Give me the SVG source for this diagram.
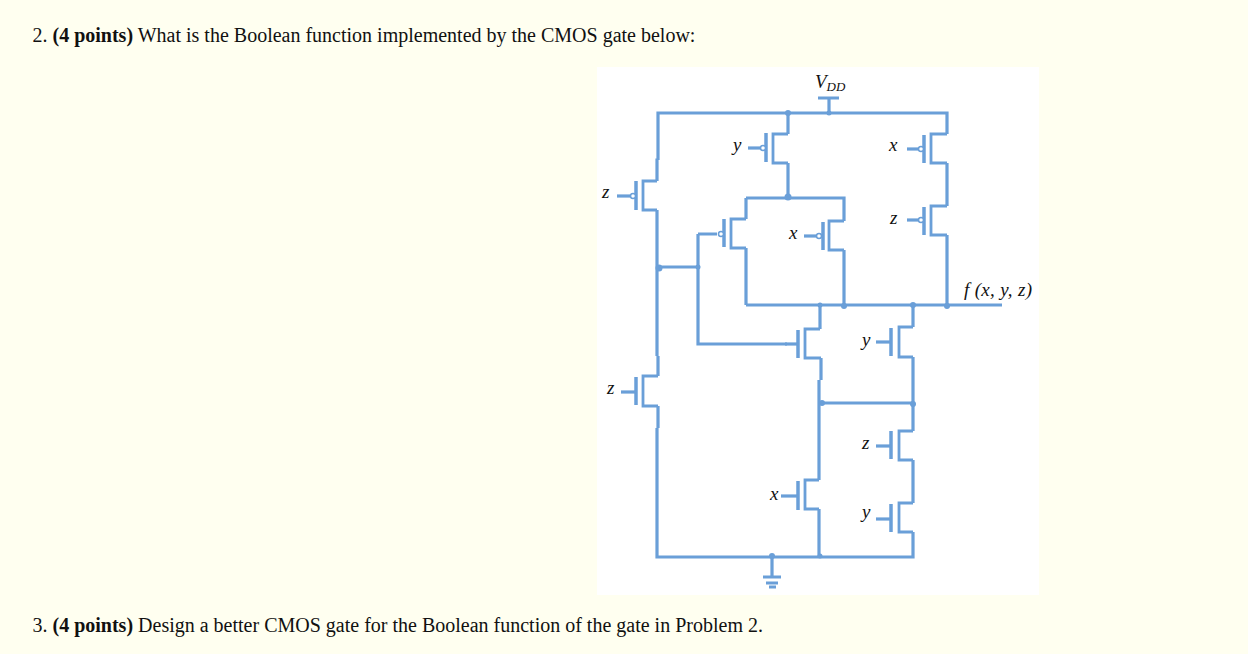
<svg xmlns="http://www.w3.org/2000/svg" width="1248" height="654" viewBox="0 0 1248 654">
<style>
.w{fill:none;stroke:#6a9fd8;stroke-width:3.2;stroke-linejoin:miter}
.t{stroke-width:2.8}
.g{fill:none;stroke:#6a9fd8;stroke-width:3.5}
.d{fill:#6a9fd8}
.b{fill:#fff;stroke:#6a9fd8;stroke-width:1.5}
.q{font-family:"Liberation Serif",serif;font-size:20px;fill:#111}
.l{font-family:"Liberation Serif",serif;font-style:italic;font-size:19px;fill:#111}
.s{font-size:13px}
</style>
<rect width="1248" height="654" fill="#fffff0"/>
<rect x="597" y="67" width="442" height="528" fill="#fff"/>
<text class="q" x="32.5" y="42">2. <tspan font-weight="700">(4 points)</tspan> What is the Boolean function implemented by the CMOS gate below:</text>
<text class="q" x="32.5" y="632">3. <tspan font-weight="700">(4 points)</tspan> Design a better CMOS gate for the Boolean function of the gate in Problem 2.</text>
<g id="connectors">
<path class="w" d="M658 160V113H947V134M788 113V134M829 113V98M818 98H839"/>
<path class="w" d="M788 163V197M746 198H844V221M746 219V198"/>
<path class="w" d="M657 210V356M658 356V376M658 406V428M657 428V557H913V532M658 160H657V181"/>
<path class="w" d="M658 267H698M698 234V344H787M698 234H717"/>
<path class="w" d="M746 248V305M844 250V305M746 305H1002M947 163V206M947 235V305"/>
<path class="w" d="M820 305V329M821 358V380M819 380V480M819 509V556M821 403H913"/>
<path class="w" d="M913 305V327M913 357V431M913 460V503"/>
<path class="w" d="M772 557V577M763 577H781M766 583H778M769 587H776"/>
</g>
<g id="vdd"><text class="l" x="815" y="88">V<tspan class="s" dy="3">DD</tspan></text><circle class="d" cx="829" cy="113" r="2.5"/></g>
<g id="junctions">
<circle class="d" cx="788" cy="113" r="3"/><circle class="d" cx="788" cy="197" r="3.5"/>
<circle class="d" cx="659" cy="268" r="3.5"/><circle class="d" cx="698" cy="267" r="2.5"/>
<circle class="d" cx="820" cy="305" r="2.5"/><circle class="d" cx="844" cy="306" r="3"/>
<circle class="d" cx="913" cy="305" r="3"/><circle class="d" cx="947" cy="306" r="3"/>
<circle class="d" cx="822" cy="403" r="3"/><circle class="d" cx="913" cy="404" r="3"/>
<circle class="d" cx="772" cy="556" r="3"/><circle class="d" cx="820" cy="556" r="2.5"/>
</g>
<g id="pmos-y"><path class="w t" d="M788 134H773V163H788"/><path class="g" d="M766 133V162"/><path class="w" d="M748 148H761"/><circle class="b" cx="763" cy="148" r="2.5"/><text class="l" x="733" y="151">y</text></g>
<g id="pmos-z"><path class="w t" d="M657 181H643V210H657"/><path class="g" d="M636 181V210"/><path class="w" d="M617 196H630"/><circle class="b" cx="633" cy="196" r="2.5"/><text class="l" x="602" y="198">z</text></g>
<g id="pmos-z2"><path class="w t" d="M746 219H731V248H746"/><path class="g" d="M724 219V247"/><circle class="b" cx="721" cy="234" r="2.5"/></g>
<g id="pmos-x"><path class="w t" d="M844 221H829V250H844"/><path class="g" d="M823 222V250"/><path class="w" d="M804 236H817"/><circle class="b" cx="819" cy="236" r="2.5"/><text class="l" x="789" y="239">x</text></g>
<g id="pmos-x2"><path class="w t" d="M947 134H931V163H947"/><path class="g" d="M924 135V163"/><path class="w" d="M907 149H919"/><circle class="b" cx="921" cy="149" r="2.5"/><text class="l" x="889" y="151">x</text></g>
<g id="pmos-z3"><path class="w t" d="M947 206H931V235H947"/><path class="g" d="M924 207V235"/><path class="w" d="M907 220H919"/><circle class="b" cx="921" cy="220" r="2.5"/><text class="l" x="890" y="224">z</text></g>
<g id="nmos-z"><path class="w t" d="M658 376H643V406H658"/><path class="g" d="M636 377V405"/><path class="w" d="M621 392H636"/><text class="l" x="607" y="394">z</text></g>
<g id="nmos-w"><path class="w t" d="M820 329H805V358H821"/><path class="g" d="M798 330V358"/><path class="w" d="M785 344H798"/></g>
<g id="nmos-x"><path class="w t" d="M819 480H805V509H819"/><path class="g" d="M798 481V510"/><path class="w" d="M781 496H798"/><text class="l" x="770" y="500">x</text></g>
<g id="nmos-y"><path class="w t" d="M913 327H899V357H913"/><path class="g" d="M891 328V356"/><path class="w" d="M876 342H891"/><text class="l" x="862" y="346">y</text></g>
<g id="nmos-z2"><path class="w t" d="M913 431H899V460H913"/><path class="g" d="M891 431V459"/><path class="w" d="M876 446H891"/><text class="l" x="862" y="449">z</text></g>
<g id="nmos-y2"><path class="w t" d="M913 503H899V532H913"/><path class="g" d="M891 504V532"/><path class="w" d="M876 519H891"/><text class="l" x="862" y="518">y</text></g>
<g id="output"><text class="l" x="964" y="296" textLength="68">f (x, y, z)</text></g>
</svg>
